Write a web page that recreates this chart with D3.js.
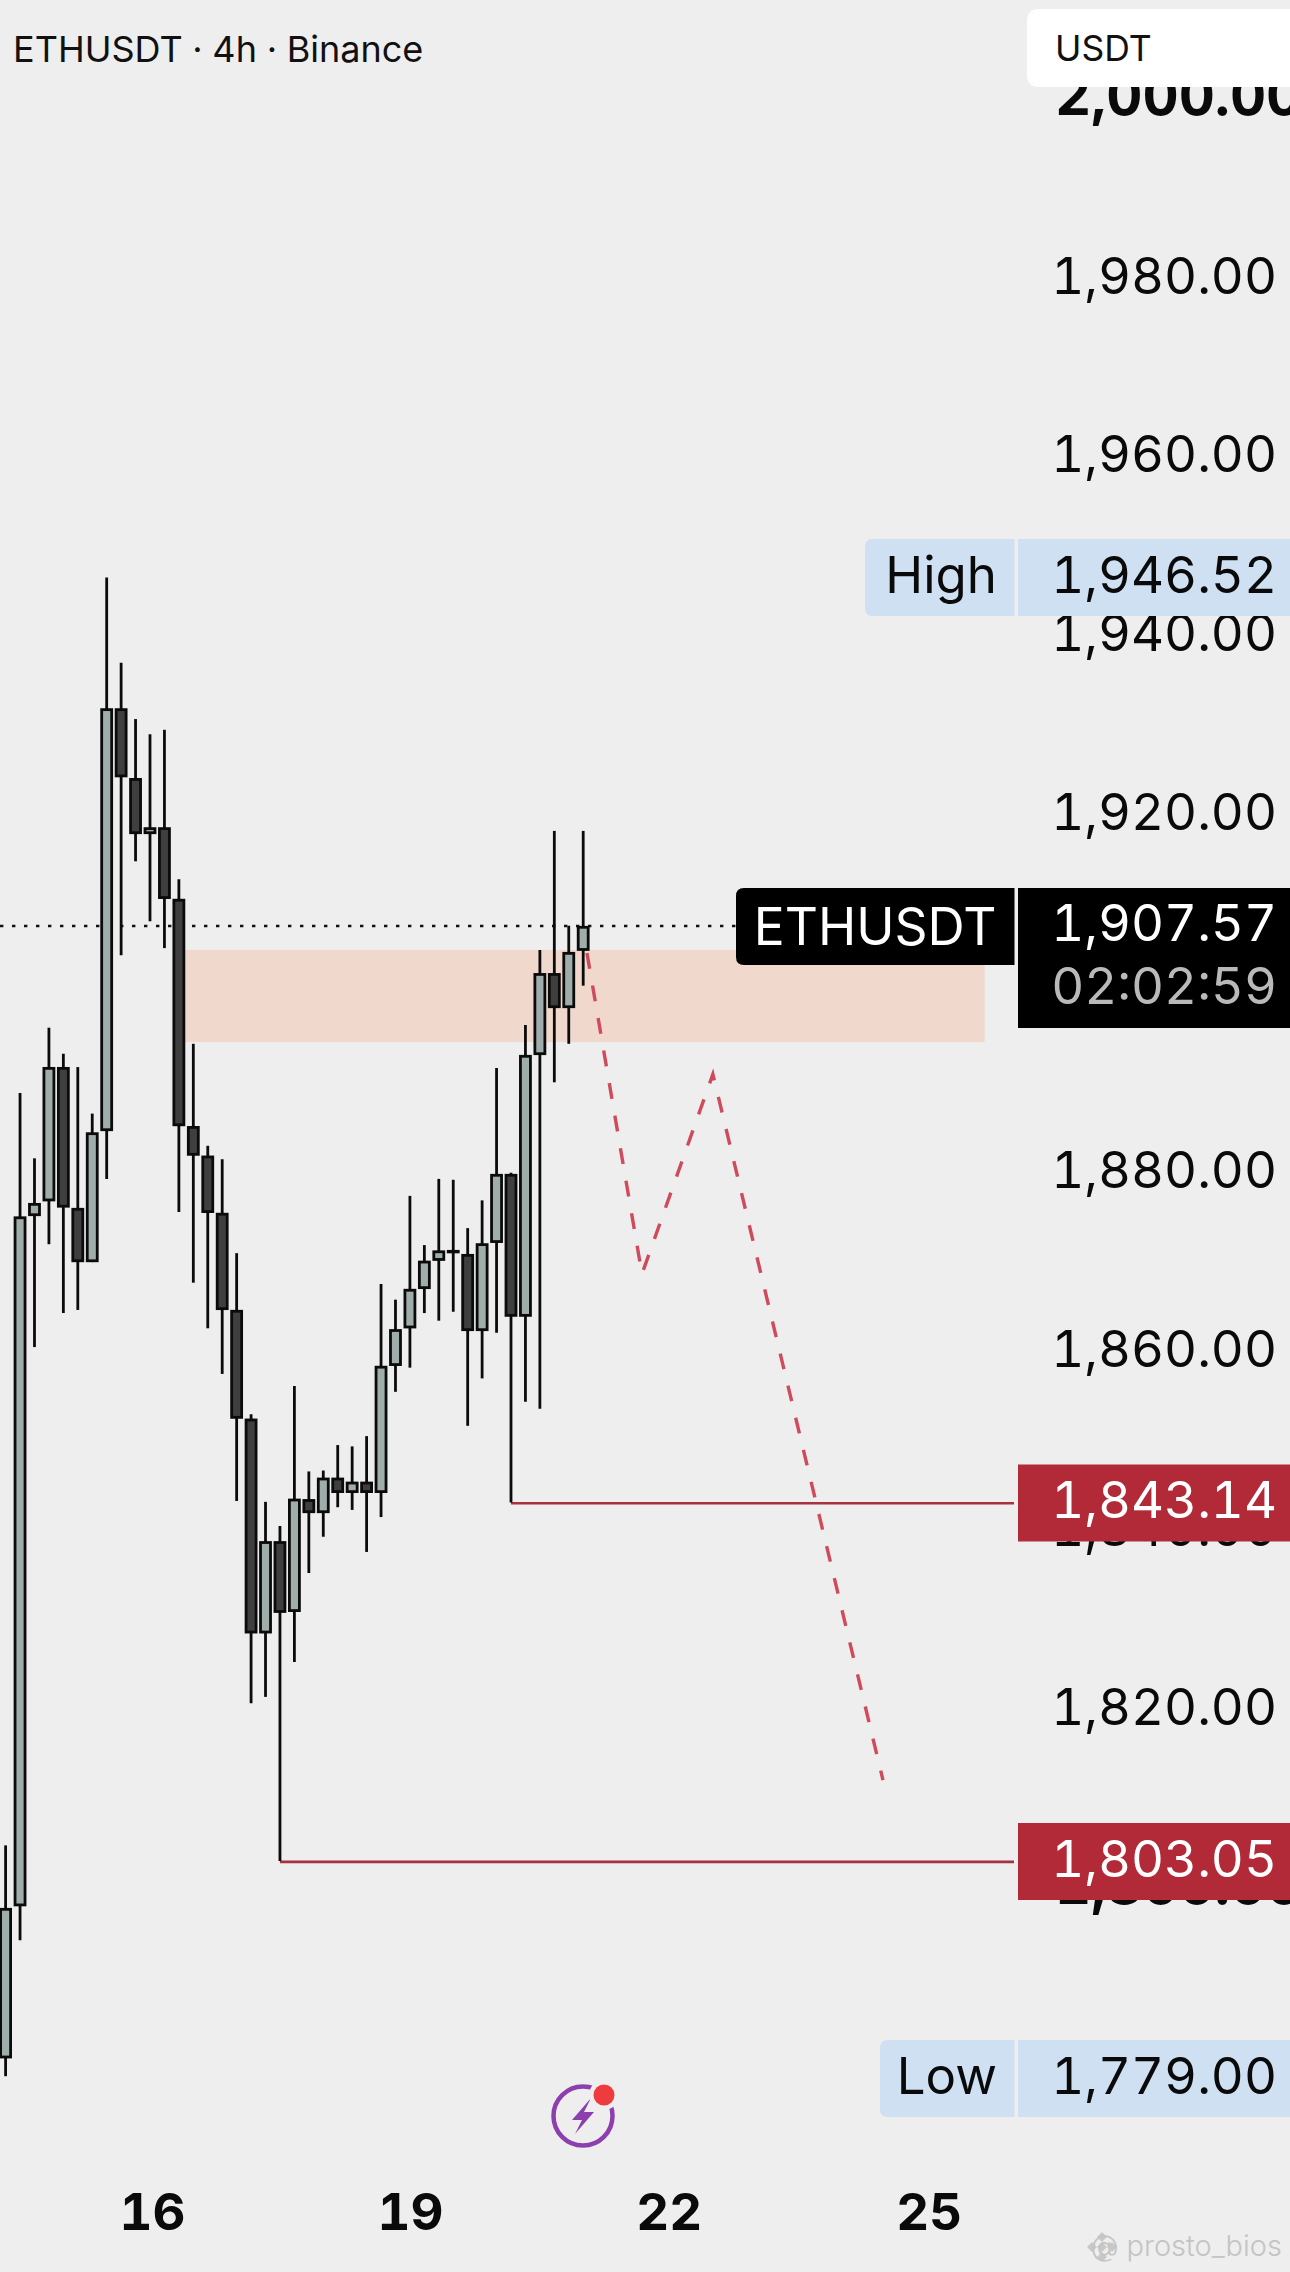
<!DOCTYPE html>
<html>
<head>
<meta charset="utf-8">
<script src="https://cdn.jsdelivr.net/npm/d3@7/dist/d3.min.js"></script>
<style>
html,body{margin:0;padding:0;background:#eeeeee;overflow:hidden;}
svg{display:block;}
text{font-family:Inter,"Noto Sans",sans-serif;font-feature-settings:"tnum" 1;font-variant-numeric:tabular-nums;}
.domain{display:none;}
</style>
</head>
<body>
<svg id="chart" width="1290" height="2272"></svg>
<script>
const symbolTitle = "ETHUSDT · 4h · Binance";
const quoteUnit = "USDT";
const opens  = [1781.0,1798.0,1875.15,1876.8,1891.8,1876.05,1870.0,1884.65,1931.9,1924.1,1917.85,1918.6,1910.6,1885.2,1881.9,1875.5,1864.65,1852.5,1828.5,1838.8,1830.9,1843.5,1841.95,1845.9,1844.2,1845.45,1844.2,1858.4,1862.6,1867.0,1870.15,1871.35,1870.9,1862.3,1872.15,1879.85,1863.9,1893.15,1902.3,1898.4,1904.8];
const closes = [1797.8,1875.1,1876.6,1891.8,1876.1,1870.0,1884.5,1931.9,1924.2,1917.85,1918.6,1910.6,1885.2,1881.9,1875.5,1864.65,1852.5,1828.5,1838.8,1830.8,1843.55,1841.95,1845.9,1844.2,1845.45,1844.2,1858.4,1862.5,1867.0,1870.15,1871.3,1871.0,1862.3,1872.1,1879.85,1863.9,1893.15,1902.3,1898.4,1904.66,1907.57];
const highs  = [1804.8,1888.9,1881.6,1896.2,1893.3,1891.8,1886.6,1946.52,1937.0,1930.7,1929.0,1929.5,1912.8,1894.4,1883.0,1881.5,1871.0,1853.0,1843.2,1840.5,1856.15,1846.6,1846.7,1849.55,1849.4,1850.55,1867.55,1865.8,1877.4,1871.9,1879.3,1879.2,1873.8,1876.9,1891.7,1880.0,1896.5,1904.9,1918.2,1907.6,1918.2];
const lows   = [1779.0,1794.2,1860.5,1872.0,1864.3,1864.65,1870.0,1879.3,1904.3,1914.8,1908.1,1905.1,1875.6,1867.7,1862.6,1857.5,1843.3,1820.7,1821.4,1803.05,1825.3,1835.25,1839.3,1842.6,1842.3,1837.6,1841.5,1855.5,1858.2,1864.3,1863.45,1864.45,1851.7,1857.0,1862.1,1843.14,1854.4,1853.6,1890.1,1894.4,1900.9];
const priceTicks = [2000,1980,1960,1940,1920,1900,1880,1860,1840,1820,1800,1780];
const heavyTicks = [2000,1800];
const dayLabels = ["16","19","22","25"];
const dayCandleIndex = [10.14,28.0,45.93,63.93];
const zoneStart = 12.42, zoneEnd = 67.8, zoneTop = 1904.9, zoneBottom = 1894.6;
const lastPrice = 1907.57, countdown = "02:02:59";
const highPrice = 1946.52, lowPrice = 1779.00;
const supportLevels = [{price:1843.14,fromIndex:35},{price:1803.05,fromIndex:19}];
const projectionIndex = [40.26,44.07,48.98,60.76];
const projectionPrice = [1904.55,1868.67,1891.0,1812.1];

const svg = d3.select("#chart");
const W = 1290, H = 2272;
const priceFmt = d3.format(",.2f");
const x = d3.scaleLinear().domain([0,40]).range([5.6,583.2]);
const y = d3.scaleLinear().domain([1779,2000]).range([2076.2,99.1]);

const candles = opens.map((o,i)=>({i,o,c:closes[i],h:highs[i],l:lows[i]}));

svg.append("rect").attr("width",W).attr("height",H).attr("fill","#eeeeee");

// supply zone
svg.append("rect").attr("x",x(zoneStart)).attr("width",x(zoneEnd)-x(zoneStart))
  .attr("y",y(zoneTop)).attr("height",y(zoneBottom)-y(zoneTop)).attr("fill","#f0d8cd");

// last-price dotted line
svg.append("line").attr("x1",0).attr("x2",736).attr("y1",y(lastPrice)).attr("y2",y(lastPrice))
  .attr("stroke","#111").attr("stroke-width",2.6).attr("stroke-dasharray","3.4 8.6");

// price axis
const yAxis = d3.axisRight(y).tickValues(priceTicks).tickSize(0).tickPadding(0).tickFormat(priceFmt);
const yG = svg.append("g").attr("transform","translate(1277,0)").call(yAxis);
yG.selectAll("text")
  .attr("text-anchor",d=>heavyTicks.includes(d)?"start":"end")
  .attr("x",d=>heavyTicks.includes(d)?-222:0).attr("dy",null)
  .attr("transform","translate(0,15)").attr("y",0)
  .attr("font-size",d=>heavyTicks.includes(d)?56:51).attr("fill","#0a0a0a")
  .attr("font-weight",d=>heavyTicks.includes(d)?700:400);

// support levels
svg.selectAll(".lvl").data(supportLevels).join("line").attr("class","lvl")
  .attr("x1",d=>x(d.fromIndex)).attr("x2",1014)
  .attr("y1",d=>y(d.price)+0.8).attr("y2",d=>y(d.price)+0.8)
  .attr("stroke","#a8323f").attr("stroke-width",2.6);

// candles
const gc = svg.append("g");
gc.selectAll(".wick").data(candles).join("line").attr("class","wick")
  .attr("x1",d=>x(d.i)).attr("x2",d=>x(d.i))
  .attr("y1",d=>y(d.h)).attr("y2",d=>y(d.l))
  .attr("stroke","#0b0b0b").attr("stroke-width",2.8);
gc.selectAll(".body").data(candles).join("rect").attr("class","body")
  .attr("x",d=>x(d.i)-5)
  .attr("width",10)
  .attr("y",d=>y(Math.max(d.o,d.c))+1.3)
  .attr("height",d=>Math.max(0.6,y(Math.min(d.o,d.c))-y(Math.max(d.o,d.c))-2.6))
  .attr("fill",d=>d.c>=d.o?"#9fadab":"#3f3f3f")
  .attr("stroke","#0b0b0b").attr("stroke-width",2.8);

// projected path
const proj = d3.line().x(d=>x(d[0])).y(d=>y(d[1]));
svg.append("path").attr("d",proj(projectionIndex.map((v,i)=>[v,projectionPrice[i]])))
  .attr("fill","none").attr("stroke","#cf4a5a").attr("stroke-width",3.4).attr("stroke-dasharray","16 17");

// time axis
const xAxis = d3.axisBottom(x).tickValues(dayCandleIndex).tickSize(0).tickPadding(0)
  .tickFormat((d,i)=>dayLabels[i]);
const xG = svg.append("g").attr("transform","translate(0,2230)").call(xAxis);
xG.selectAll("text").attr("y",0).attr("dy",null).attr("font-size",51).attr("font-weight",700).attr("fill","#0a0a0a");

function tag(x0,x1,yc,h,fill,r){
  return svg.append("path").attr("fill",fill).attr("d",(()=>{
    const p=d3.path();const t=yc-h/2,b=yc+h/2;
    p.moveTo(x0+r,t);p.lineTo(x1,t);p.lineTo(x1,b);p.lineTo(x0+r,b);
    p.quadraticCurveTo(x0,b,x0,b-r);p.lineTo(x0,t+r);p.quadraticCurveTo(x0,t,x0+r,t);p.closePath();
    return p.toString();
  })());
}
function label(str,xp,base,size,fill,anchor){
  return svg.append("text").text(str).attr("x",xp).attr("y",base).attr("font-size",size)
    .attr("fill",fill).attr("text-anchor",anchor||"end");
}

// High / Low tags
[[highPrice,"High",865,577.5,997],[lowPrice,"Low",880,2078.5,997]].forEach(([v,name,left,yc,tx])=>{
  tag(left,1014.5,yc,77,"#cfe0f3",8);
  tag(1018,1290,yc,77,"#cfe0f3",0);
  label(name,tx,yc+15.5,51,"#0a0a0a");
  label(priceFmt(v),1277,yc+15.5,51,"#0a0a0a");
});

// support tags
supportLevels.forEach(l=>{
  const yc=y(l.price)+0.5;
  tag(1018,1290,yc,77,"#b22a38",0);
  label(priceFmt(l.price),1277,yc+15.5,51,"#ffffff");
});

// last price tags
tag(736,1014.5,926.5,77,"#000",8);
label("ETHUSDT",996.5,945,51.5,"#ffffff");
tag(1018,1290,958,140,"#000",0);
label(priceFmt(lastPrice),1277,941,51,"#ffffff");
label(countdown,1277,1004,51,"#b9b9b9");

// header
label(symbolTitle,13,62,36,"#111","start");
tag(1027,1290,48,78,"#ffffff",12);
label(quoteUnit,1055,61,35.5,"#111","start");

// alert icon
const ic = svg.append("g").attr("transform","translate(583,2116)");
ic.append("circle").attr("r",29.5).attr("fill","none").attr("stroke","#8e3fae").attr("stroke-width",4.5);
ic.append("path").attr("d","M8,-18 L-11,4 L-1,4 L-8,18 L11,-4 L1,-4 Z").attr("fill","#8e3fae");
ic.append("circle").attr("cx",21).attr("cy",-21).attr("r",15).attr("fill","#eeeeee");
ic.append("circle").attr("cx",21).attr("cy",-21).attr("r",10.5).attr("fill","#ee3b3f");

// watermark
const wm = svg.append("g").attr("transform","translate(1102,2247)").attr("fill","#c8c8c8");
[[0,-10],[10,0],[0,10],[-10,0],[0,0]].forEach(([dx,dy])=>{
  wm.append("path").attr("transform",`translate(${dx},${dy})`).attr("d","M0,-5 L5,0 L0,5 L-5,0 Z");
});
label("@ prosto_bios",1282,2256,29,"#c4c4c4").attr("font-weight",300);
</script>
</body>
</html>
